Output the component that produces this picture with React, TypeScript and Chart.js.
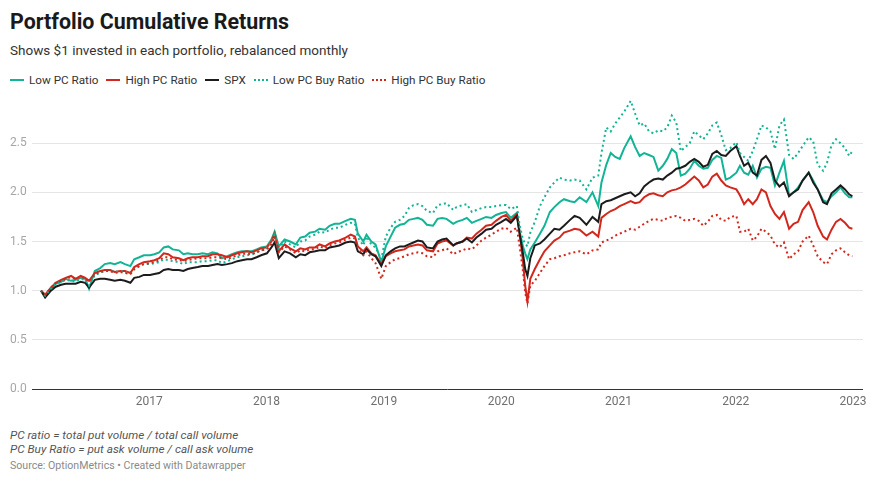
import { useEffect, useRef } from "react";
import { Chart, registerables } from "chart.js";

Chart.register(...registerables);

// Observation dates (roughly twice a month, plus market turning points)
const dates = [
  "2016-01-29", "2016-02-11", "2016-02-29", "2016-03-15", "2016-04-01", "2016-04-15", "2016-05-02", "2016-05-16", "2016-06-01", "2016-06-15", "2016-06-27", "2016-07-15", "2016-08-01", "2016-08-15", "2016-09-01", "2016-09-15", "2016-10-03", "2016-10-17", "2016-11-03", "2016-11-15", "2016-12-01", "2016-12-15",
  "2017-01-03", "2017-01-17", "2017-02-01", "2017-02-15", "2017-03-01", "2017-03-15", "2017-04-03", "2017-04-17", "2017-05-01", "2017-05-15", "2017-06-01", "2017-06-15", "2017-07-03", "2017-07-17", "2017-08-01", "2017-08-15", "2017-09-01", "2017-09-15", "2017-10-02", "2017-10-16", "2017-11-01", "2017-11-15", "2017-12-01", "2017-12-15",
  "2018-01-02", "2018-01-16", "2018-01-26", "2018-02-08", "2018-02-26", "2018-03-15", "2018-04-02", "2018-04-16", "2018-05-01", "2018-05-15", "2018-06-01", "2018-06-15", "2018-07-02", "2018-07-16", "2018-08-01", "2018-08-15", "2018-09-04", "2018-09-20", "2018-10-03", "2018-10-12", "2018-10-29", "2018-11-08", "2018-11-23", "2018-12-06", "2018-12-24",
  "2019-01-07", "2019-01-22", "2019-02-05", "2019-02-20", "2019-03-06", "2019-03-20", "2019-04-03", "2019-04-17", "2019-05-01", "2019-05-15", "2019-06-03", "2019-06-17", "2019-07-01", "2019-07-15", "2019-08-05", "2019-08-15", "2019-09-03", "2019-09-16", "2019-10-02", "2019-10-16", "2019-11-01", "2019-11-15", "2019-12-02", "2019-12-16",
  "2020-01-02", "2020-01-16", "2020-01-31", "2020-02-19", "2020-02-28", "2020-03-09", "2020-03-16", "2020-03-23", "2020-04-01", "2020-04-15", "2020-05-01", "2020-05-15", "2020-06-01", "2020-06-15", "2020-07-01", "2020-07-15", "2020-08-03", "2020-08-17", "2020-09-02", "2020-09-23", "2020-10-12", "2020-10-30", "2020-11-09", "2020-11-24", "2020-12-08", "2020-12-22",
  "2021-01-05", "2021-01-19", "2021-02-08", "2021-02-22", "2021-03-08", "2021-03-22", "2021-04-06", "2021-04-20", "2021-05-05", "2021-05-19", "2021-06-02", "2021-06-16", "2021-06-30", "2021-07-14", "2021-07-28", "2021-08-11", "2021-08-25", "2021-09-08", "2021-09-22", "2021-10-06", "2021-10-20", "2021-11-03", "2021-11-17", "2021-12-01", "2021-12-15",
  "2022-01-03", "2022-01-14", "2022-01-27", "2022-02-09", "2022-02-23", "2022-03-08", "2022-03-22", "2022-04-05", "2022-04-19", "2022-05-03", "2022-05-17", "2022-05-31", "2022-06-16", "2022-06-30", "2022-07-14", "2022-07-28", "2022-08-16", "2022-08-30", "2022-09-13", "2022-09-30", "2022-10-12", "2022-10-26", "2022-11-09", "2022-11-23", "2022-12-07", "2022-12-20", "2022-12-30",
];

// Growth of $1, one line per year
const lowPcRatio = [
  1.00, 0.95, 1.02, 1.07, 1.09, 1.12, 1.10, 1.11, 1.13, 1.12, 1.02, 1.20, 1.23, 1.27, 1.28, 1.27, 1.29, 1.27, 1.25, 1.32, 1.34, 1.36,
  1.36, 1.37, 1.39, 1.44, 1.45, 1.42, 1.41, 1.37, 1.38, 1.37, 1.37, 1.38, 1.37, 1.39, 1.38, 1.33, 1.35, 1.37, 1.39, 1.40, 1.40, 1.40, 1.42, 1.44,
  1.45, 1.52, 1.60, 1.45, 1.52, 1.50, 1.47, 1.54, 1.55, 1.59, 1.60, 1.63, 1.62, 1.66, 1.68, 1.68, 1.71, 1.73, 1.72, 1.58, 1.50, 1.57, 1.50, 1.47, 1.29,
  1.45, 1.55, 1.64, 1.67, 1.68, 1.72, 1.73, 1.74, 1.72, 1.67, 1.66, 1.73, 1.74, 1.73, 1.68, 1.70, 1.72, 1.74, 1.69, 1.71, 1.73, 1.75, 1.74, 1.77,
  1.79, 1.80, 1.74, 1.79, 1.60, 1.45, 1.38, 1.32, 1.42, 1.49, 1.58, 1.66, 1.80, 1.85, 1.90, 1.93, 1.91, 1.90, 1.95, 1.90, 2.00, 1.86, 2.10, 2.28, 2.40, 2.36,
  2.34, 2.45, 2.57, 2.46, 2.37, 2.40, 2.38, 2.36, 2.22, 2.27, 2.34, 2.44, 2.40, 2.17, 2.19, 2.24, 2.32, 2.27, 2.24, 2.25, 2.33, 2.37, 2.35, 2.13, 2.15,
  2.20, 2.27, 2.20, 2.18, 2.27, 2.15, 2.24, 2.26, 2.25, 2.07, 2.20, 2.32, 1.97, 2.00, 2.05, 2.12, 2.20, 2.12, 2.03, 1.92, 1.90, 1.96, 2.00, 2.05, 1.99, 1.95, 1.95,
];

const highPcRatio = [
  1.00, 0.96, 1.03, 1.08, 1.11, 1.13, 1.15, 1.12, 1.15, 1.13, 1.10, 1.18, 1.20, 1.21, 1.21, 1.19, 1.20, 1.20, 1.18, 1.24, 1.27, 1.29,
  1.30, 1.31, 1.33, 1.38, 1.37, 1.34, 1.33, 1.31, 1.33, 1.34, 1.34, 1.35, 1.35, 1.37, 1.37, 1.36, 1.34, 1.36, 1.38, 1.39, 1.40, 1.39, 1.41, 1.43,
  1.44, 1.50, 1.58, 1.40, 1.47, 1.43, 1.40, 1.43, 1.42, 1.44, 1.44, 1.47, 1.45, 1.48, 1.50, 1.51, 1.54, 1.57, 1.55, 1.45, 1.40, 1.44, 1.38, 1.36, 1.27,
  1.35, 1.38, 1.40, 1.41, 1.42, 1.45, 1.46, 1.47, 1.46, 1.41, 1.40, 1.48, 1.50, 1.51, 1.46, 1.48, 1.50, 1.54, 1.53, 1.58, 1.62, 1.66, 1.67, 1.71,
  1.75, 1.77, 1.71, 1.78, 1.58, 1.30, 1.05, 0.89, 1.12, 1.22, 1.32, 1.40, 1.46, 1.51, 1.54, 1.59, 1.61, 1.63, 1.62, 1.56, 1.60, 1.55, 1.74, 1.78, 1.81, 1.83,
  1.86, 1.88, 1.91, 1.89, 1.90, 1.95, 1.98, 1.99, 1.97, 1.96, 2.00, 2.02, 2.03, 2.05, 2.08, 2.12, 2.16, 2.12, 2.05, 2.08, 2.16, 2.19, 2.12, 2.07, 2.05,
  2.03, 1.97, 1.88, 1.93, 1.88, 1.93, 2.03, 2.00, 1.86, 1.78, 1.73, 1.80, 1.63, 1.68, 1.70, 1.82, 1.90, 1.80, 1.66, 1.55, 1.52, 1.62, 1.70, 1.73, 1.69, 1.64, 1.63,
];

const spx = [
  1.00, 0.93, 1.00, 1.04, 1.06, 1.07, 1.07, 1.07, 1.09, 1.08, 1.03, 1.11, 1.12, 1.12, 1.11, 1.10, 1.11, 1.10, 1.08, 1.13, 1.14, 1.16,
  1.16, 1.17, 1.18, 1.21, 1.22, 1.21, 1.21, 1.20, 1.22, 1.23, 1.24, 1.25, 1.25, 1.26, 1.27, 1.26, 1.27, 1.28, 1.30, 1.31, 1.32, 1.32, 1.34, 1.36,
  1.38, 1.44, 1.49, 1.33, 1.40, 1.38, 1.34, 1.37, 1.36, 1.39, 1.40, 1.41, 1.41, 1.44, 1.45, 1.46, 1.49, 1.50, 1.49, 1.40, 1.37, 1.42, 1.37, 1.35, 1.25,
  1.36, 1.40, 1.43, 1.45, 1.45, 1.47, 1.49, 1.51, 1.50, 1.44, 1.43, 1.50, 1.52, 1.53, 1.46, 1.48, 1.50, 1.53, 1.49, 1.54, 1.58, 1.62, 1.63, 1.67,
  1.70, 1.73, 1.69, 1.76, 1.57, 1.38, 1.22, 1.15, 1.33, 1.46, 1.48, 1.52, 1.58, 1.63, 1.62, 1.66, 1.72, 1.76, 1.74, 1.67, 1.75, 1.70, 1.88, 1.91, 1.92, 1.94,
  1.96, 1.98, 2.00, 1.96, 1.99, 2.06, 2.10, 2.13, 2.14, 2.13, 2.17, 2.20, 2.24, 2.25, 2.27, 2.31, 2.34, 2.31, 2.26, 2.28, 2.39, 2.42, 2.38, 2.37, 2.42,
  2.47, 2.37, 2.27, 2.30, 2.20, 2.17, 2.33, 2.37, 2.30, 2.12, 2.06, 2.10, 1.96, 2.00, 2.03, 2.12, 2.20, 2.10, 2.03, 1.90, 1.88, 1.99, 2.03, 2.07, 2.03, 1.98, 1.96,
];

const lowPcBuyRatio = [
  1.00, 0.95, 1.02, 1.07, 1.09, 1.11, 1.10, 1.09, 1.12, 1.11, 1.05, 1.16, 1.18, 1.20, 1.20, 1.19, 1.20, 1.19, 1.17, 1.22, 1.25, 1.27,
  1.27, 1.28, 1.29, 1.32, 1.31, 1.30, 1.29, 1.27, 1.29, 1.29, 1.29, 1.30, 1.30, 1.31, 1.31, 1.28, 1.30, 1.32, 1.34, 1.35, 1.36, 1.37, 1.39, 1.41,
  1.43, 1.49, 1.57, 1.43, 1.50, 1.47, 1.44, 1.50, 1.51, 1.55, 1.57, 1.60, 1.59, 1.62, 1.64, 1.64, 1.67, 1.69, 1.68, 1.54, 1.46, 1.55, 1.47, 1.44, 1.32,
  1.55, 1.64, 1.70, 1.72, 1.76, 1.84, 1.87, 1.88, 1.86, 1.81, 1.79, 1.87, 1.88, 1.89, 1.82, 1.85, 1.87, 1.88, 1.80, 1.82, 1.84, 1.85, 1.85, 1.86,
  1.87, 1.87, 1.83, 1.86, 1.66, 1.52, 1.48, 1.45, 1.59, 1.70, 1.86, 1.95, 2.05, 2.10, 2.15, 2.13, 2.12, 2.13, 2.12, 2.03, 2.15, 2.17, 2.40, 2.66, 2.62, 2.70,
  2.76, 2.82, 2.93, 2.80, 2.68, 2.70, 2.62, 2.60, 2.63, 2.62, 2.66, 2.78, 2.71, 2.42, 2.46, 2.50, 2.62, 2.58, 2.54, 2.60, 2.68, 2.71, 2.58, 2.43, 2.45,
  2.51, 2.40, 2.36, 2.32, 2.42, 2.54, 2.68, 2.66, 2.62, 2.44, 2.68, 2.74, 2.38, 2.34, 2.40, 2.47, 2.56, 2.52, 2.28, 2.22, 2.30, 2.48, 2.54, 2.50, 2.45, 2.37, 2.42,
];

const highPcBuyRatio = [
  1.00, 0.96, 1.03, 1.08, 1.10, 1.12, 1.14, 1.12, 1.14, 1.13, 1.09, 1.17, 1.19, 1.20, 1.20, 1.18, 1.19, 1.18, 1.17, 1.22, 1.25, 1.27,
  1.28, 1.29, 1.31, 1.34, 1.34, 1.32, 1.31, 1.30, 1.31, 1.32, 1.33, 1.33, 1.33, 1.34, 1.34, 1.33, 1.32, 1.34, 1.36, 1.37, 1.38, 1.37, 1.39, 1.41,
  1.42, 1.47, 1.55, 1.39, 1.45, 1.42, 1.38, 1.41, 1.40, 1.42, 1.42, 1.45, 1.43, 1.46, 1.48, 1.49, 1.52, 1.54, 1.53, 1.43, 1.36, 1.40, 1.33, 1.28, 1.12,
  1.25, 1.29, 1.32, 1.33, 1.35, 1.37, 1.38, 1.39, 1.38, 1.35, 1.34, 1.40, 1.41, 1.43, 1.37, 1.39, 1.41, 1.43, 1.42, 1.46, 1.51, 1.54, 1.57, 1.60,
  1.63, 1.64, 1.60, 1.64, 1.44, 1.20, 0.98, 0.87, 1.05, 1.10, 1.18, 1.25, 1.32, 1.33, 1.35, 1.36, 1.38, 1.39, 1.40, 1.37, 1.41, 1.42, 1.49, 1.51, 1.53, 1.56,
  1.58, 1.60, 1.63, 1.62, 1.65, 1.68, 1.71, 1.73, 1.72, 1.71, 1.74, 1.75, 1.76, 1.74, 1.71, 1.72, 1.73, 1.71, 1.66, 1.70, 1.76, 1.77, 1.72, 1.71, 1.75,
  1.76, 1.60, 1.60, 1.63, 1.51, 1.55, 1.63, 1.60, 1.56, 1.47, 1.44, 1.49, 1.32, 1.37, 1.40, 1.50, 1.56, 1.46, 1.35, 1.29, 1.27, 1.37, 1.41, 1.43, 1.39, 1.36, 1.35,
];

const yearTicks = [2017, 2018, 2019, 2020, 2021, 2022, 2023];
const valueTicks = [0, 0.5, 1, 1.5, 2, 2.5];

const TEAL = "#12b496";
const RED = "#d2271d";
const BLACK = "#1c1c1c";
const FONT = "Roboto, 'Noto Sans', sans-serif";

const series = [
  { label: "Low PC Ratio", color: TEAL, dotted: false, values: lowPcRatio },
  { label: "High PC Ratio", color: RED, dotted: false, values: highPcRatio },
  { label: "SPX", color: BLACK, dotted: false, values: spx },
  { label: "Low PC Buy Ratio", color: TEAL, dotted: true, values: lowPcBuyRatio },
  { label: "High PC Buy Ratio", color: RED, dotted: true, values: highPcBuyRatio },
];

// ISO date -> fractional year for the linear x scale
function toYear(iso: string): number {
  const [y, m, d] = iso.split("-").map(Number);
  const start = Date.UTC(y, 0, 1);
  const end = Date.UTC(y + 1, 0, 1);
  return y + (Date.UTC(y, m - 1, d) - start) / (end - start);
}

function LegendItem({ label, color, dotted }: { label: string; color: string; dotted: boolean }) {
  return (
    <div style={{ display: "flex", alignItems: "center", marginRight: 8 }}>
      <svg width={14} height={10} style={{ marginRight: 5 }}>
        <line
          x1={0}
          y1={5}
          x2={14}
          y2={5}
          stroke={color}
          strokeWidth={2}
          strokeDasharray={dotted ? "2 2" : undefined}
        />
      </svg>
      <span>{label}</span>
    </div>
  );
}

export default function App() {
  const canvasRef = useRef<HTMLCanvasElement>(null);

  useEffect(() => {
    const xs = dates.map(toYear);
    const chart = new Chart(canvasRef.current as HTMLCanvasElement, {
      type: "line",
      data: {
        datasets: series.map((s, i) => ({
          label: s.label,
          data: s.values.map((v, j) => ({ x: xs[j], y: v })),
          borderColor: s.color,
          backgroundColor: s.color,
          borderWidth: 2,
          borderDash: s.dotted ? [2, 3] : [],
          pointRadius: 0,
          tension: 0,
          fill: false,
          order: series.length - i,
        })),
      },
      options: {
        animation: false,
        responsive: false,
        maintainAspectRatio: false,
        events: [],
        layout: { padding: { left: 10, right: 17, top: 4, bottom: 0 } },
        plugins: { legend: { display: false }, tooltip: { enabled: false } },
        scales: {
          x: {
            type: "linear",
            min: 2016.0,
            max: 2023.085,
            grid: { display: false, drawTicks: false },
            border: { display: false },
            afterBuildTicks: (s: any) => {
              s.ticks = yearTicks.map((v) => ({ value: v }));
            },
            afterFit: (s: any) => {
              s.height = 25;
              s.paddingLeft = 0;
              s.paddingRight = 0;
            },
            ticks: {
              color: "#6f6f6f",
              font: { family: FONT, size: 12 },
              padding: 6,
              maxRotation: 0,
              autoSkip: false,
              callback: (v: any) => String(v),
            },
          },
          y: {
            type: "linear",
            min: 0,
            max: 3,
            afterBuildTicks: (s: any) => {
              s.ticks = valueTicks.map((v) => ({ value: v }));
            },
            afterFit: (s: any) => {
              s.width = 22;
              s.paddingTop = 0;
              s.paddingBottom = 0;
            },
            grid: {
              color: (ctx: any) => (ctx.tick && ctx.tick.value === 0 ? "#333333" : "#e5e5e5"),
              drawTicks: false,
              lineWidth: 1,
            },
            border: { display: false },
            ticks: {
              color: "#a6a6a6",
              font: { family: FONT, size: 12 },
              padding: 0,
              crossAlign: "far",
              callback: (v: any) => Number(v).toFixed(1),
            },
          },
        },
      },
    });
    return () => chart.destroy();
  }, []);

  return (
    <div
      style={{
        position: "absolute",
        left: 0,
        top: 0,
        width: 880,
        height: 485,
        background: "#fff",
        fontFamily: FONT,
        color: "#222",
        overflow: "hidden",
      }}
    >
      <div
        style={{
          position: "absolute",
          left: 10,
          top: 9,
          fontSize: 21.4,
          lineHeight: "26px",
          fontWeight: 700,
          color: "#1a1a1a",
          whiteSpace: "nowrap",
        }}
      >
        Portfolio Cumulative Returns
      </div>
      <div
        style={{
          position: "absolute",
          left: 10,
          top: 42,
          fontSize: 13.5,
          lineHeight: "17px",
          color: "#333",
          whiteSpace: "nowrap",
        }}
      >
        Shows $1 invested in each portfolio, rebalanced monthly
      </div>
      <div
        style={{
          position: "absolute",
          left: 10,
          top: 72,
          display: "flex",
          fontSize: 11.7,
          lineHeight: "16px",
          color: "#333",
          whiteSpace: "nowrap",
        }}
      >
        {series.map((s) => (
          <LegendItem key={s.label} label={s.label} color={s.color} dotted={s.dotted} />
        ))}
      </div>
      <div style={{ position: "absolute", left: 0, top: 90, width: 880, height: 324 }}>
        <canvas ref={canvasRef} width={880} height={324} style={{ display: "block" }} />
      </div>
      <div
        style={{
          position: "absolute",
          left: 10,
          top: 428,
          fontSize: 11.75,
          lineHeight: "14px",
          fontStyle: "italic",
          color: "#555",
          whiteSpace: "nowrap",
        }}
      >
        <div>PC ratio = total put volume / total call volume</div>
        <div>PC Buy Ratio = put ask volume / call ask volume</div>
      </div>
      <div
        style={{
          position: "absolute",
          left: 10,
          top: 459,
          fontSize: 10.6,
          lineHeight: "14px",
          color: "#8a8a8a",
          whiteSpace: "nowrap",
        }}
      >
        Source: OptionMetrics • Created with Datawrapper
      </div>
    </div>
  );
}
